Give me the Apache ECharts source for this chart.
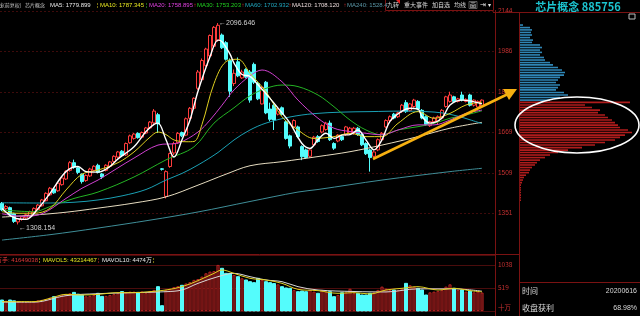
<!DOCTYPE html>
<html><head><meta charset="utf-8">
<script src="https://cdn.jsdelivr.net/npm/echarts@6/dist/echarts.min.js"></script>
<style>html,body{margin:0;padding:0;background:#000;overflow:hidden}#c{width:640px;height:316px}</style>
</head><body><div id="c"></div>
<script>
// ---------- data ----------
const openArr = [1391,1370,1374,1350,1318,1328,1334,1342,1354,1367,
1381,1401,1424,1447,1440,1464,1486,1520,1550,1530,
1505,1480,1498,1520,1540,1506,1520,1535,1555,1572,
1595,1580,1628,1645,1665,1650,1666,1686,1706,1738,
1526,1418,1535,1588,1628,1668,1658,1724,1763,1841,
1875,1930,1968,2006,2030,2050,2020,1950,1860,1945,
1882,1915,1905,1935,1860,1780,1865,1760,1775,1740,
1765,1710,1655,1690,1690,1613,1600,1575,1620,1652,
1670,1680,1705,1625,1635,1652,1660,1665,1665,1685,
1660,1625,1600,1575,1600,1640,1690,1715,1740,1730,
1750,1785,1755,1770,1790,1755,1730,1695,1710,1712,
1725,1770,1790,1808,1790,1815,1790,1815,1775,1768,
1772];
const closeArr = [1365,1378,1346,1320,1330,1338,1346,1358,1371,1384,
1404,1430,1450,1432,1470,1490,1516,1550,1532,1512,
1476,1500,1525,1536,1512,1494,1540,1553,1575,1592,
1578,1625,1655,1662,1648,1668,1686,1709,1752,1702,
1524,1515,1586,1625,1665,1655,1722,1763,1802,1905,
1950,1995,2048,2080,2088,2000,1955,1830,1900,1890,
1905,1885,1795,1865,1800,1845,1745,1720,1717,1760,
1740,1645,1615,1715,1652,1573,1570,1600,1650,1633,
1695,1705,1640,1607,1658,1640,1690,1685,1685,1660,
1620,1585,1570,1592,1640,1665,1715,1730,1725,1745,
1775,1750,1780,1795,1760,1725,1700,1710,1725,1730,
1755,1808,1815,1790,1800,1795,1798,1775,1795,1790,
1795];
const lowArr = [1360,1364,1342,1314,1308.154,1323,1330,1338,1350,1363,
1378,1398,1420,1428,1436,1460,1482,1515,1526,1505,
1468,1475,1494,1516,1508,1486,1516,1530,1550,1568,
1572,1576,1624,1640,1644,1646,1662,1682,1702,1666,
1519,1410,1530,1580,1624,1650,1654,1720,1758,1835,
1867,1926,1965,2000,2024,1995,1950,1808,1850,1885,
1878,1880,1785,1858,1795,1778,1740,1712,1678,1735,
1735,1640,1606,1685,1646,1560,1565,1570,1615,1628,
1665,1675,1635,1600,1630,1635,1655,1660,1660,1655,
1615,1580,1515,1570,1595,1636,1685,1710,1720,1725,
1745,1745,1750,1765,1755,1720,1695,1690,1705,1700,
1720,1765,1785,1786,1786,1790,1786,1770,1770,1765,
1768];
const highArr = [1396,1384,1378,1354,1333,1342,1350,1362,1375,1388,
1408,1434,1455,1452,1474,1494,1520,1556,1562,1536,
1508,1504,1530,1540,1546,1510,1544,1557,1579,1596,
1599,1629,1660,1666,1669,1672,1690,1713,1760,1745,
1529,1520,1590,1632,1670,1672,1727,1768,1806,1913,
1958,2000,2052,2085,2096.646,2056,2026,1958,1915,1962,
1914,1920,1913,1942,1866,1850,1870,1785,1780,1765,
1770,1716,1660,1720,1695,1618,1605,1605,1655,1658,
1700,1710,1715,1630,1662,1656,1694,1690,1690,1690,
1665,1630,1605,1598,1645,1670,1720,1735,1745,1750,
1780,1795,1784,1800,1795,1760,1735,1714,1730,1735,
1760,1812,1828,1812,1804,1828,1802,1820,1798,1794,
1798];
// volume, unit 十万 (hundred thousand)
const volArr = [248,230,248,230,211,211,200,210,220,240,
250,270,300,324,330,361,380,400,420,380,
361,330,340,360,399,330,340,360,380,400,
440,420,436,436,420,440,410,450,474,549,
120,480,500,540,560,580,620,650,700,720,
775,850,888,900,1038,963,850,850,812,775,
737,700,662,640,737,700,662,640,620,600,
549,520,512,470,436,450,436,474,436,400,
474,436,436,324,361,412,420,500,399,399,
361,361,399,420,474,549,500,474,474,474,
500,624,580,549,512,474,361,420,436,450,
474,549,600,512,474,474,436,450,420,436,
416];
// moving averages read at sparse points [candle index, value]
const ma5 = [[0,1371],[3,1335],[6,1328],[9,1370],[12,1430],[16,1515],[19,1535],[21,1515],[24,1513],[27,1535],[29,1565],[33,1612],[36,1672],[38,1700],[39,1705],[41,1640],[43,1572],[45,1640],[47,1717],[49,1830],[52,1965],[54,2030],[55,2024],[57,1975],[58,1940],[60,1895],[62,1888],[64,1855],[67,1802],[70,1745],[72,1705],[75,1625],[77,1606],[79,1640],[81,1665],[83,1645],[85,1658],[87,1660],[89,1678],[91,1639],[93,1600],[95,1640],[97,1712],[100,1752],[102,1763],[104,1760],[105,1730],[107,1705],[110,1725],[112,1776],[115,1795],[117,1792],[120,1780]];
const ma10 = [[0,1358],[4,1352],[8,1352],[12,1371],[16,1443],[20,1505],[24,1521],[29,1550],[33,1592],[37,1650],[39,1670],[41,1660],[43,1639],[46,1632],[48,1633],[50,1700],[53,1860],[56,1946],[59,1955],[62,1900],[66,1828],[70,1730],[74,1678],[78,1645],[83,1652],[87,1665],[91,1652],[95,1652],[99,1704],[104,1750],[108,1724],[112,1743],[116,1776],[120,1787]];
const ma20 = [[0,1350],[5,1340],[10,1350],[16,1410],[20,1450],[24,1482],[29,1530],[33,1568],[39,1619],[44,1627],[49,1670],[52,1717],[55,1775],[58,1835],[62,1890],[65,1913],[70,1867],[74,1795],[79,1724],[83,1685],[87,1672],[91,1665],[95,1659],[99,1678],[104,1698],[108,1698],[112,1717],[116,1743],[120,1756]];
const ma30 = [[0,1365],[8,1358],[12,1378],[18,1410],[24,1435],[33,1494],[41,1561],[48,1612],[53,1705],[58,1765],[62,1812],[66,1841],[70,1854],[74,1848],[79,1815],[83,1769],[87,1717],[91,1678],[95,1659],[99,1678],[104,1691],[108,1704],[112,1724],[116,1737],[120,1753]];
const ma60 = [[0,1393],[10,1392],[18,1395],[24,1404],[30,1420],[36,1445],[41,1482],[45,1508],[49,1541],[54,1590],[58,1639],[62,1678],[66,1705],[72,1729],[78,1742],[85,1748],[92,1750],[100,1752],[106,1750],[110,1745],[114,1732],[117,1718],[120,1703]];
const ma120 = [[0,1337],[8,1345],[16,1356],[24,1372],[33,1392],[41,1416],[49,1462],[56,1505],[62,1538],[70,1554],[79,1574],[87,1593],[95,1619],[104,1652],[112,1685],[120,1708]];
const ma240 = [[0,1247],[12,1268],[24,1294],[37,1325],[49,1357],[62,1398],[74,1435],[79,1445],[95,1482],[112,1515],[120,1528]];
const mavol5 = [[0,211],[8,211],[12,286],[16,376],[20,361],[24,376],[29,414],[33,414],[37,436],[41,474],[45,549],[49,685],[53,850],[55,926],[58,850],[62,737],[66,700],[70,624],[74,489],[79,459],[84,399],[88,414],[92,384],[96,474],[100,512],[104,549],[109,474],[113,512],[117,459],[120,432]];
const mavol10 = [[0,200],[8,200],[16,346],[24,391],[33,414],[41,436],[45,474],[49,624],[54,775],[58,850],[62,775],[66,700],[70,662],[74,549],[79,474],[88,440],[96,430],[104,500],[113,500],[120,447]];
// chip distribution: price levels and amounts
const chipPrice = [2089,2079,2070,2060,2050,2040,2030,2021,2011,2001,1991,1982,1972,1962,1952,1942,1933,1923,1913,1903,1893,1884,1874,1864,1854,1844,1835,1825,1815,1805,1795,1786,1776,1766,1756,1746,1737,1727,1717,1707,1697,1688,1678,1668,1658,1649,1639,1629,1619,1609,1599,1590,1580,1570,1560,1550,1541,1531,1521,1511,1501,1492,1482,1472,1462,1452,1443,1433,1423,1413,1403];
const chipAmount = [3,10,12,11,12,10,13,12,20,22,20,22,20,24,25,30,33,38,42,45,44,40,38,36,40,38,36,44,48,40,30,110,65,72,80,78,85,88,92,95,98,100,108,112,105,100,95,85,75,62,48,38,30,25,20,17,15,12,10,9,6,4,3,2,1,1,1,1,1,1,1];
// tick labels
const yTickLabels = ['1351','1509','1669','1827','1986','2144'];
const volTickLabels = ['十万','519','1038'];
const lastClosePrice = 1795;
// header texts
const maNames = ['MA5','MA10','MA20','MA30','MA60','MA120','MA240'];
const maValues = ['1779.899','1787.345','1758.895','1753.203','1702.932','1708.120','1528.4'];

// ---------- chart ----------
const N = openArr.length;
const categories = [];
for (let i = 0; i < N + 3; i++) categories.push(i < N ? String(i + 1) : '');
const yMin = 1192.4, yMax = 2144, yInt = 158.6;
const volInt = 519;
const UP = '#ff3c3c', DOWN = '#54fcfc';
const candles = openArr.map((o, i) => [o, closeArr[i], lowArr[i], highArr[i]]);
const isUp = i => closeArr[i] > openArr[i] || (closeArr[i] === openArr[i] && i > 0 && closeArr[i] >= closeArr[i-1]);
const volData = volArr.map((v, i) => ({value: v, itemStyle: isUp(i) ? {color: '#4a0c0c', borderColor: '#d02828', borderWidth: 0.8} : {color: DOWN, borderColor: DOWN}}));
const chipData = chipPrice.map((p, i) => [chipAmount[i], p]);
let hiIdx = 0, loIdx = 0;
highArr.forEach((h, i) => { if (h > highArr[hiIdx]) hiIdx = i; });
lowArr.forEach((l, i) => { if (l < lowArr[loIdx]) loIdx = i; });

const FONT = '"Liberation Sans", "Noto Sans CJK SC", sans-serif';
const CJK = '"Noto Sans CJK SC", sans-serif';
const DR = '#7a1212';

function maLine(name, data, color, width) {
  return {name, type: 'line', xAxisIndex: 0, yAxisIndex: 0, data, smooth: 0.35, showSymbol: false, symbol: 'none',
    lineStyle: {color, width: width || 1}, silent: true, z: 3};
}

const headerColors = ['#e8e8e8','#e8e820','#e040e0','#20d020','#20a8c0','#e8d8d8','#5a98a8'];
const headerX = [50, 100, 149, 197, 245, 292, 347];
const graphics = [];
const T = (x, y, text, fill, size, fam, extra) => graphics.push(Object.assign({type:'text', x, y, z:6, style:Object.assign({text, fill, fontSize:size, fontFamily:fam, verticalAlign:'middle'}, extra || {})}));
T(-7, 5.5, '日线(前复权)', '#c8c8c8', 5, CJK);
T(25, 5.5, '芯片概念', '#c8c8c8', 5, CJK);
maNames.forEach((n, k) => {
  T(headerX[k], 5.5, n + ': ' + maValues[k], headerColors[k], 6, FONT);
  if (k < 6) T(headerX[k+1] - 3.5, 5.5, k < 2 ? '¦' : '↑', k < 2 ? (k === 0 ? '#e0d020' : '#30c030') : '#e03030', 6, FONT);
});
// button bar
graphics.push({type:'rect', shape:{x:385.5, y:-1, width:108, height:11.5}, style:{fill:'#000', stroke:DR, lineWidth:1}, z:5});
[['九转',387],['重大事件',404],['加自选',432],['均线',454],['画',470]].forEach(([t,x]) => T(x, 5, t, '#d8d8d8', 6, CJK));
graphics.push({type:'polygon', shape:{points:[[396,0],[400,0],[400,4]]}, style:{fill:'#e02020'}, z:7});
graphics.push({type:'rect', shape:{x:469, y:1.5, width:8, height:7}, style:{fill:'none', stroke:'#909090', lineWidth:0.6}, z:6});
T(480, 5, '⇥', '#e8e8e8', 7, FONT);
T(488, 5, '▾', '#e8e8e8', 6, FONT);
// right panel title
T(578, 7, '芯片概念 885756', '#1cc4d0', 11, CJK, {align:'center', fontWeight:'bold'});
graphics.push({type:'rect', shape:{x:629, y:14, width:6, height:5}, style:{fill:'none', stroke:'#bbbbbb', lineWidth:1}});
// borders
const L = (x1,y1,x2,y2,c) => graphics.push({type:'line', shape:{x1,y1,x2,y2}, style:{stroke:c||DR, lineWidth:1}, z:1});
L(493,12.5,640,12.5);
L(495.5,10,495.5,316);
L(519.5,12,519.5,316);
L(0,254.5,519,254.5);
L(519,282.5,640,282.5);
// volume header
T(-4, 260, '万手: 41649038', '#e03838', 6, FONT);
T(38.5, 260, '¦', '#e0d020', 6, FONT);
T(43, 260, 'MAVOL5: 43214467', '#e8e820', 6, FONT);
T(98, 260, '¦', '#e03838', 6, FONT);
T(102, 260, 'MAVOL10: 4474万', '#e8e8e8', 6, FONT);
T(153, 260, '¦', '#e0d020', 6, FONT);
// bottom info
T(522, 291, '时间', '#d8d8d8', 8, CJK);
T(637, 291, '20200616', '#d8d8d8', 7, FONT, {align:'right'});
T(522, 308, '收盘获利', '#d8d8d8', 8, CJK);
T(637, 308, '68.98%', '#d8d8d8', 7, FONT, {align:'right'});
// annotations
graphics.push({type:'ellipse', shape:{cx:577, cy:125, rx:62, ry:28}, style:{fill:'none', stroke:'#ffffff', lineWidth:1.6}, z:50});
graphics.push({type:'line', shape:{x1:373, y1:159, x2:508, y2:94}, style:{stroke:'#f6b010', lineWidth:2.5}, z:50});
graphics.push({type:'polygon', shape:{points:[[517,89],[503,89],[509,100]]}, style:{fill:'#f6b010'}, z:50});

const chart = echarts.init(document.getElementById('c'), null, {renderer:'canvas'});
chart.setOption({
  backgroundColor: '#000',
  animation: false,
  grid: [
    {left:0, top:11, width:496, height:243},
    {left:0, top:255, width:496, height:56},
    {left:520, top:11, width:120, height:243}
  ],
  xAxis: [
    {type:'category', gridIndex:0, data:categories, boundaryGap:true, show:false},
    {type:'category', gridIndex:1, data:categories, boundaryGap:true, show:false},
    {type:'value', gridIndex:2, min:0, max:120, show:false}
  ],
  yAxis: [
    {type:'value', gridIndex:0, position:'right', min:yMin, max:yMax, interval:yInt,
     axisLine:{show:false}, axisTick:{show:false},
     axisLabel:{color:'#c43030', fontSize:6.5, fontFamily:FONT, margin:2,
       formatter:v => yTickLabels[Math.round((v - yMin) / yInt) - 1] || ''},
     splitLine:{show:true, lineStyle:{color:'#3e0b0b', type:[2,2], width:1}}},
    {type:'value', gridIndex:1, position:'right', min:0, max:1263.7, interval:volInt,
     axisLine:{show:false}, axisTick:{show:false},
     axisLabel:{color:'#c43030', fontSize:6.5, fontFamily:CJK, margin:2,
       formatter:v => {
         const k = Math.round(v / volInt);
         if (Math.abs(v / volInt - k) > 0.01) return '';
         const t = volTickLabels[k] || '';
         return k === 0 ? '{b|' + t + '}' : t;
       },
       rich:{b:{color:'#c43030', fontSize:6.5, fontFamily:CJK, padding:[0,0,6,0]}}},
     splitLine:{show:true, lineStyle:{color:'#4a0c0c', width:1}}},
    {type:'value', gridIndex:2, min:yMin, max:yMax, show:false}
  ],
  series: [
    {type:'candlestick', xAxisIndex:0, yAxisIndex:0, data:candles, barWidth:3, z:2,
     itemStyle:{color:'#000', color0:DOWN, borderColor:UP, borderColor0:DOWN, borderWidth:1},
     markPoint:{symbol:'circle', symbolSize:0, silent:true,
       label:{show:true, position:'right', distance:1, color:'#d0d0d0', fontSize:7, fontFamily:FONT,
         formatter:p => '←' + p.value},
       data:[{coord:[hiIdx, highArr[hiIdx]], value:highArr[hiIdx].toFixed(3)},
             {coord:[loIdx, lowArr[loIdx]], value:lowArr[loIdx].toFixed(3), label:{offset:[0,4]}}]}},
    maLine('MA240', ma240, '#3f8e98'),
    maLine('MA120', ma120, '#e6dcc0'),
    maLine('MA60', ma60, '#1aa0b4'),
    maLine('MA30', ma30, '#24b424'),
    maLine('MA20', ma20, '#d040d0'),
    maLine('MA10', ma10, '#e0d020'),
    maLine('MA5', ma5, '#ffffff', 1.4),
    {type:'bar', xAxisIndex:1, yAxisIndex:1, data:volData, barWidth:3, z:2},
    {type:'line', xAxisIndex:1, yAxisIndex:1, data:mavol10, smooth:0.35, showSymbol:false, lineStyle:{color:'#d8d8d8', width:1}, z:3},
    {type:'line', xAxisIndex:1, yAxisIndex:1, data:mavol5, smooth:0.35, showSymbol:false, lineStyle:{color:'#e0d020', width:1}, z:3},
    {type:'custom', xAxisIndex:2, yAxisIndex:2, data:chipData, encode:{x:0, y:1},
     renderItem:(params, api) => {
       const p0 = api.coord([0, api.value(1)]);
       const p1 = api.coord([api.value(0), api.value(1)]);
       return {type:'rect', shape:{x:p0[0], y:p0[1]-0.8, width:p1[0]-p0[0], height:1.6},
         style:{fill: api.value(1) >= lastClosePrice ? '#2f86b6' : '#b01c1c'}};
     }}
  ],
  graphic: graphics
});
</script></body></html>
